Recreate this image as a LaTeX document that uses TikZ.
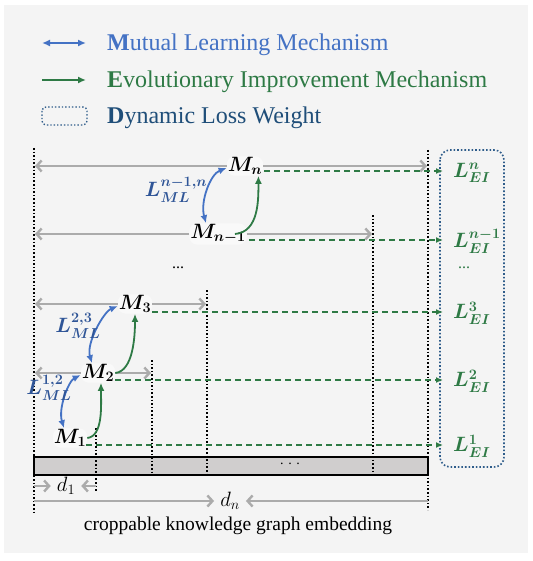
\documentclass[tikz,border=0pt]{standalone}
\usepackage{fontspec}
\setmainfont{Liberation Serif}
\usepackage{amsmath,bm}
\usetikzlibrary{arrows.meta}

\definecolor{bgc}{HTML}{F4F4F4}
\definecolor{mlb}{HTML}{4472C4}
\definecolor{mld}{HTML}{2F5597}
\definecolor{eig}{HTML}{2E7A45}
\definecolor{dlw}{HTML}{2E5C8A}
\definecolor{dlt}{HTML}{1F4E79}
\definecolor{cropg}{HTML}{ABABAB}
\definecolor{barg}{HTML}{D0CECE}

\begin{document}
\begin{tikzpicture}[x=1pt,y=-1pt,
  model/.style={rounded corners=8pt,fill=white!45!bgc,inner sep=1pt,font=\fontsize{21}{21}\selectfont},
  lossei/.style={anchor=west,inner xsep=10pt,inner ysep=0pt,text=eig,font=\fontsize{20}{20}\selectfont},
  lossml/.style={text=mld,font=\fontsize{20}{20}\selectfont},
  crop/.style={color=cropg,line width=2.4pt,-{Straight Barb[length=5pt,width=11pt]}},
  evo/.style={color=eig,line width=1.6pt,dash pattern=on 6pt off 4pt,-{Latex[length=7pt,width=6pt]}},
  mutual/.style={color=mlb,line width=1.8pt,{Latex[length=8pt,width=7pt]}-{Latex[length=8pt,width=7pt]}},
  improve/.style={color=eig,line width=1.8pt,-{Latex[length=8pt,width=7pt]}},
  cut/.style={color=black,line width=1.6pt,dotted},
  legend/.style={anchor=base west,inner sep=0pt,font=\fontsize{24}{24}\selectfont},
  dlabel/.style={inner xsep=6pt,inner ysep=0pt,font=\fontsize{21}{21}\selectfont}]

\useasboundingbox (0,0) rectangle (532,561);
\fill[bgc] (4,5) rectangle (528,553);

% legend
\coordinate (lg1a) at (42,43);
\coordinate (lg1b) at (86,43);
\coordinate (lg2a) at (42,80);
\coordinate (lg2b) at (86,80);
\path[mutual]  (lg1a) edge (lg1b);
\path[improve] (lg2a) edge (lg2b);
\draw[dlw,dotted,line width=1.4pt,rounded corners=4pt] (42,107) rectangle (87,125);
\node[legend,text=mlb] (t1) at (107,51)  {\textbf{M}utual Learning Mechanism};
\node[legend,text=eig] (t2) at (107,88)  {\textbf{E}volutionary Improvement Mechanism};
\node[legend,text=dlt] (t3) at (107,124) {\textbf{D}ynamic Loss Weight};

% cropping positions
\coordinate (cut0t) at (34,148);  \coordinate (cut0b) at (34,513);
\coordinate (cutnt) at (428,150); \coordinate (cutnb) at (428,510);
\coordinate (cutmt) at (373,215); \coordinate (cutmb) at (373,475);
\coordinate (cut3t) at (207,290); \coordinate (cut3b) at (207,475);
\coordinate (cut2t) at (152,360); \coordinate (cut2b) at (152,475);
\coordinate (cut1t) at (96,428);  \coordinate (cut1b) at (96,492);

% embedding bar
\node[draw,fill=barg,line width=1.6pt,minimum width=394pt,minimum height=18pt,inner sep=0pt] (bar) at (231,466) {};
\node[font=\fontsize{14}{14}\selectfont] (bardots) at (290,464) {.\,\,.\,\,.};

\path[cut] (cut0t) edge (cut0b)
           (cutnt) edge (cutnb)
           (cutmt) edge (cutmb)
           (cut3t) edge (cut3b)
           (cut2t) edge (cut2b)
           (cut1t) edge (cut1b);

% models
\node[model] (mn)  at (245,166) {$\bm{M_n}$};
\node[model] (mnm) at (218,234) {$\bm{M_{n-1}}$};
\node[model] (m3)  at (135,304) {$\bm{M_3}$};
\node[model] (m2)  at (98,373)  {$\bm{M_2}$};
\node[model] (m1)  at (70,438)  {$\bm{M_1}$};
\node[font=\fontsize{16}{16}\selectfont] (mdots) at (178,268) {...};

\path[crop,shorten >=1pt]
  (mn)  edge (mn -| cut0t)
  (mn)  edge (mn -| cutnt)
  (mnm) edge (mnm -| cut0t)
  (mnm) edge (mnm -| cutmt)
  (m3)  edge (m3 -| cut0t)
  (m3)  edge (m3 -| cut3t)
  (m2)  edge (m2 -| cut0t)
  (m2)  edge (m2 -| cut2t);

% losses
\node[lossei] (ein)  at (443,173) {$\bm{L_{EI}^{n}}$};
\node[lossei] (einm) at (443,241) {$\bm{L_{EI}^{n-1}}$};
\node[text=eig,font=\fontsize{16}{16}\selectfont] (eidots) at (464,268) {...};
\node[lossei] (ei3)  at (443,313) {$\bm{L_{EI}^{3}}$};
\node[lossei] (ei2)  at (443,381) {$\bm{L_{EI}^{2}}$};
\node[lossei] (ei1)  at (443,446) {$\bm{L_{EI}^{1}}$};
\draw[dlw,dotted,line width=1.6pt,rounded corners=10pt] (440,150) rectangle (504,467);

\coordinate (en)  at (264,171);
\coordinate (enm) at (249,240);
\coordinate (e3)  at (152,312);
\coordinate (e2)  at (115,380);
\coordinate (e1)  at (86,445);
\path[evo] (en)  edge (en -| ein.west)
           (enm) edge (enm -| einm.west)
           (e3)  edge (e3 -| ei3.west)
           (e2)  edge (e2 -| ei2.west)
           (e1)  edge (e1 -| ei1.west);

% mutual learning and improvement
\draw[mutual]  ([xshift=-12pt]mnm.north) .. controls +(-6,-22) and +(-16,6) .. ([yshift=-2pt]mn.west);
\draw[improve] ([xshift=-12pt]mnm.east) .. controls +(24,-2) and +(0,24) .. ([xshift=-5pt]mn.south east);
\draw[mutual]  ([xshift=-6pt]m2.north) .. controls +(-6,-20) and +(-14,6) .. ([yshift=-2pt]m3.west);
\draw[improve] (m2.east) .. controls +(18,-2) and +(0,22) .. (m3.south);
\draw[mutual]  ([xshift=-6pt]m1.north) .. controls +(-6,-20) and +(-12,6) .. ([yshift=-2pt]m2.west);
\draw[improve] (m1.east) .. controls +(16,-2) and +(0,22) .. ([xshift=3pt]m2.south);

\node[lossml] (mlnm) at (176,190) {$\bm{L_{ML}^{n-1,n}}$};
\node[lossml] (ml23) at (78,326)  {$\bm{L_{ML}^{2,3}}$};
\node[lossml] (ml12) at (49,388)  {$\bm{L_{ML}^{1,2}}$};

% dimensions
\node[dlabel] (d1) at (66,486) {$d_1$};
\node[dlabel] (dn) at (230,501) {$d_n$};
\path[crop] (d1 -| cut0b) edge (d1)
            (d1 -| cut1b) edge (d1)
            (dn -| cut0b) edge (dn)
            (dn -| cutnb) edge (dn);

\node[font=\fontsize{19.5}{19.5}\selectfont] (caption) at (238,526) {croppable knowledge graph embedding};
\end{tikzpicture}
\end{document}
